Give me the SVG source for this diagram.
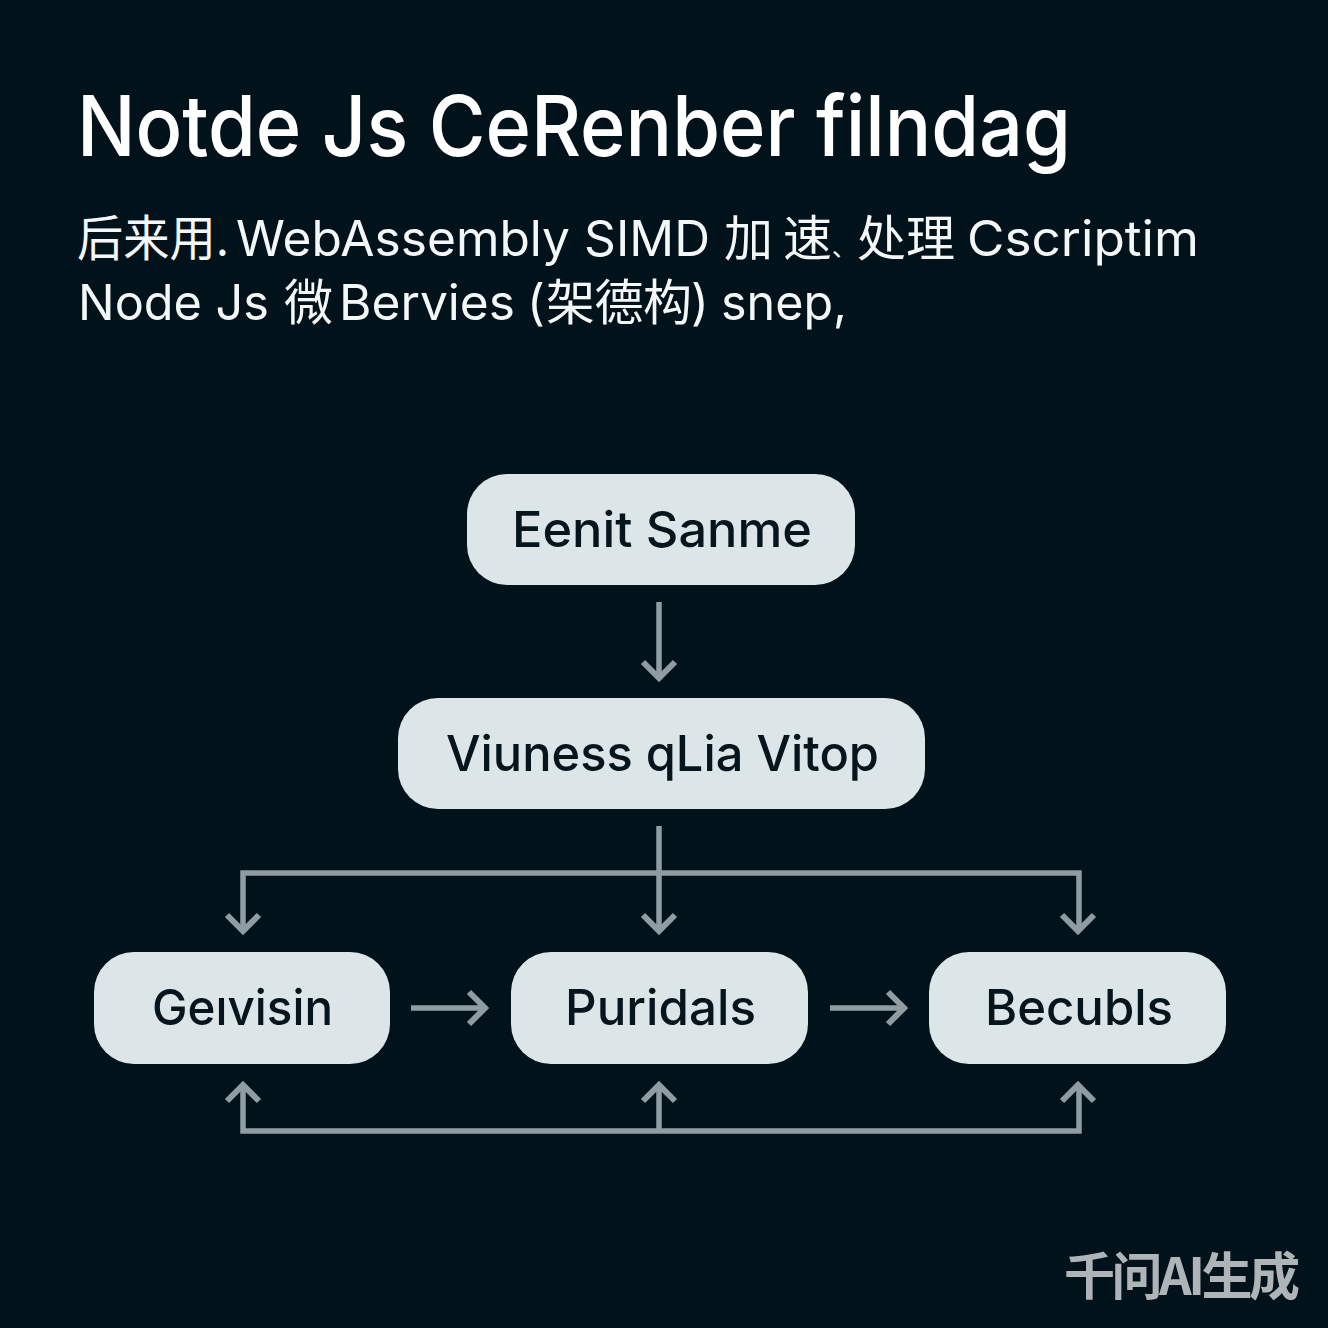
<svg xmlns="http://www.w3.org/2000/svg" width="1328" height="1328" viewBox="0 0 1328 1328">
<style>
text{font-family:"Inter","Liberation Sans","Noto Sans CJK SC",sans-serif}
.sub{font-size:49px;fill:#f4f7f8}
.lbl{font-size:50px;font-weight:500;fill:#06141b}
.box{fill:#dce6e9}
.c{fill:none;stroke:#8f9da3;stroke-width:5.5}
</style>
<defs><path id="h" d="M-16-16 0 0 16-16" fill="none" stroke="#8f9da3" stroke-width="6"/></defs>
<rect width="1328" height="1328" fill="#02121a"/>
<text x="77" y="156" font-size="84" font-weight="500" fill="#fff" textLength="994" lengthAdjust="spacingAndGlyphs">Notde Js CeRenber filndag</text>
<text class="sub" x="77" y="256" textLength="152" lengthAdjust="spacingAndGlyphs">后来用.</text>
<text class="sub" x="236" y="256" textLength="474" lengthAdjust="spacingAndGlyphs">WebAssembly SIMD</text>
<text class="sub" x="724" y="256">加</text>
<text class="sub" x="783" y="256">速</text>
<text class="sub" x="832" y="256" style="font-size:24px">、</text>
<text class="sub" x="857" y="256">处理</text>
<text class="sub" x="967" y="256" textLength="232" lengthAdjust="spacingAndGlyphs">Cscriptim</text>
<text class="sub" x="78" y="320" textLength="191" lengthAdjust="spacingAndGlyphs">Node Js</text>
<text class="sub" x="284" y="320">微</text>
<text class="sub" x="339" y="320" textLength="176" lengthAdjust="spacingAndGlyphs">Bervies</text>
<text class="sub" x="527" y="320">(</text>
<text class="sub" x="546" y="320" textLength="146" lengthAdjust="spacing">架德构</text>
<text class="sub" x="691" y="320">)</text>
<text class="sub" x="721" y="320" textLength="126" lengthAdjust="spacingAndGlyphs">snep,</text>
<g id="connectors">
<path class="c" d="M659 602V676"/><use href="#h" transform="translate(659 678)"/>
<path class="c" d="M659 826V930M243 930V873H1079V930"/>
<use href="#h" transform="translate(243 931)"/><use href="#h" transform="translate(659 931)"/><use href="#h" transform="translate(1078 931)"/>
<path class="c" d="M411 1008H483M830 1008H902"/>
<use href="#h" transform="translate(485 1008) rotate(-90)"/><use href="#h" transform="translate(904 1008) rotate(-90)"/>
<path class="c" d="M243 1086V1131H1079V1086M659 1086V1131"/>
<use href="#h" transform="translate(243 1085) rotate(180)"/><use href="#h" transform="translate(659 1085) rotate(180)"/><use href="#h" transform="translate(1078 1085) rotate(180)"/>
</g>
<g id="n1"><rect class="box" x="467" y="474" width="388" height="111" rx="40"/><text class="lbl" x="512" y="547" textLength="300" lengthAdjust="spacingAndGlyphs">Eenit Sanme</text></g>
<g id="n2"><rect class="box" x="398" y="698" width="527" height="111" rx="40"/><text class="lbl" x="446" y="771" textLength="433" lengthAdjust="spacingAndGlyphs">Viuness qLia Vitop</text></g>
<g id="n3"><rect class="box" x="94" y="952" width="296" height="112" rx="40"/><text class="lbl" x="152" y="1025" textLength="181" lengthAdjust="spacingAndGlyphs">Geıvisin</text></g>
<g id="n4"><rect class="box" x="511" y="952" width="297" height="112" rx="40"/><text class="lbl" x="565" y="1025" textLength="191" lengthAdjust="spacingAndGlyphs">Puridals</text></g>
<g id="n5"><rect class="box" x="929" y="952" width="297" height="112" rx="40"/><text class="lbl" x="985" y="1025" textLength="188" lengthAdjust="spacingAndGlyphs">Becubls</text></g>
<text x="1064" y="1295" font-size="51" font-weight="700" fill="#aeb4b7" textLength="236" lengthAdjust="spacing" style="font-family:'Noto Sans CJK SC','Noto Sans',sans-serif">千问AI生成</text>
</svg>
